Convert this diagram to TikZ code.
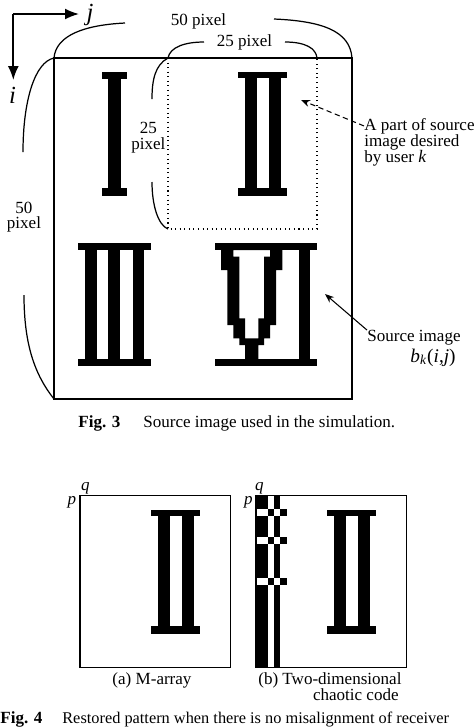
\documentclass[tikz,border=0pt]{standalone}
\usepackage{fontspec}
\setmainfont{Liberation Serif}
\usepackage{tikz}
\usetikzlibrary{arrows.meta}
\tikzset{>=stealth}
\tikzset{
  lbl/.style={inner sep=0pt, font=\fontsize{9.7}{11}\selectfont},
  tightlbl/.style={lbl, text height=6.6pt, text depth=1.2pt},
  axlbl/.style={inner sep=0pt, font=\fontsize{14}{14}\selectfont\itshape},
  brace/.style={line width=0.7pt},
  frame/.style={line width=0.8pt},
}

\begin{document}
\begin{tikzpicture}[x=0.02cm, y=-0.02cm]
        \useasboundingbox (0,0) rectangle (474,728);

        % Axes
        \coordinate (orig) at (13.3,14);
        \coordinate (jtip) at (79,14);
        \coordinate (itip) at (13.3,80);
        \draw [-{Latex[length=2.8mm,width=2.2mm]}, line width=1pt] (orig) -- (jtip);
        \draw [-{Latex[length=2.8mm,width=2.2mm]}, line width=1pt] (orig) -- (itip);
        \node[axlbl, anchor=base] (jlbl) at (90,20) {j};
        \node[axlbl, anchor=base] (ilbl) at (12.5,103) {i};

        % Source image, pixels
        \fill (101.7,71.7) rectangle (127.3,79);
        \fill (101.7,188.3) rectangle (127.3,195.7);
        \fill (108.3,79) rectangle (120.7,188.3);

        \foreach \dx/\dy in {0/0, -87/438, 89/438} {
          \begin{scope}[shift={(\dx,\dy)}]
            \fill (238.3,71.7) rectangle (286.7,78.3);
            \fill (238.3,188.3) rectangle (286.7,195.7);
            \fill (245,78.3) rectangle (256.7,188.3);
            \fill (269.3,78.3) rectangle (280.7,188.3);
          \end{scope}
        }

        \fill (78.3,243.3) rectangle (151,250);
        \fill (78.3,359) rectangle (151,365.7);
        \fill (85,250) rectangle (96.7,359);
        \fill (108.3,250) rectangle (120,359);
        \fill (132.7,250) rectangle (144,359);

        \fill (215,243.3) rectangle (316.7,250);
        \fill (215,359) rectangle (316.7,365.7);
        \fill (299,250) rectangle (310,359);
        \fill[even odd rule] (221,250) -- (221,270) -- (227.3,270) -- (227.3,325) -- (233.3,325)
          -- (233.3,338.3) -- (239.3,338.3) -- (239.3,345) -- (245,345) -- (245,359)
          -- (258.3,359) -- (258.3,345) -- (264,345) -- (264,338.3) -- (270,338.3)
          -- (270,325) -- (276,325) -- (276,270) -- (282.3,270) -- (282.3,250) -- cycle
          (233.3,250) -- (233.3,256.7) -- (239.3,256.7) -- (239.3,318.3) -- (245,318.3)
          -- (245,338.3) -- (258.3,338.3) -- (258.3,318.3) -- (264,318.3) -- (264,256.7)
          -- (270,256.7) -- (270,250) -- cycle;

        \draw [frame] (54,58) rectangle (352,399);
        \draw [dotted, line width=0.6pt] (168,58) -- (168,229) -- (317,229) -- (317,58);

        % Sizes
        \draw [brace] (54,58) .. controls (56,35) and (85,25) .. (125,23);
        \draw [brace] (274,19) .. controls (320,21) and (350,30) .. (352,58);
        \node[lbl, anchor=base] (topfifty) at (198.5,25) {50 pixel};

        \draw [brace] (168,58) .. controls (170,47) and (185,42) .. (204,42);
        \draw [brace] (285,42) .. controls (305,42) and (316,48) .. (317,58);
        \node[lbl, anchor=base] (toptwentyfive) at (244.5,46.5) {25 pixel};

        \draw [brace] (168,58) .. controls (155,65) and (152,80) .. (152,99);
        \draw [brace] (152,182) .. controls (152,205) and (158,225) .. (168,229);
        \node[tightlbl, anchor=base] (midnum) at (148.3,133) {25};
        \node[tightlbl, anchor=base] (midunit) at (148.3,149.5) {pixel};

        \draw [brace] (54,58) .. controls (35,62) and (23,100) .. (23,152);
        \draw [brace] (24,295) .. controls (24,345) and (35,375) .. (54,399);
        \node[tightlbl, anchor=base] (leftnum) at (24,213) {50};
        \node[tightlbl, anchor=base] (leftunit) at (24,228) {pixel};

        % Labels
        \node[tightlbl, anchor=base west] (partA) at (364,130.7) {A part of source};
        \node[tightlbl, anchor=base west] (partB) at (364,146.7) {image desired};
        \node[tightlbl, anchor=base west] (partC) at (364,162.5) {by user {\fontsize{10}{10}\selectfont\itshape k}};
        \coordinate (parttip) at (301,100);
        \draw [densely dashed, line width=0.6pt, -{Stealth[length=1.8mm,width=1.4mm]}] (partA.west) -- (parttip);

        \node[lbl, anchor=base west] (srcA) at (367,341.7) {Source image};
        \node[lbl, anchor=base east, font=\fontsize{11}{11}\selectfont] (srcB) at (456,362)
          {\textit{b}\textsubscript{\textit{k}}(\textit{i},\textit{j})};
        \coordinate (srctip) at (325,294);
        \draw [line width=0.6pt, -{Stealth[length=1.8mm,width=1.4mm]}] (srcA.north west) -- (srctip);

        \node[lbl, anchor=base west] (figthree) at (78,427.3) {\textbf{Fig. 3}};
        \node[lbl, anchor=base west] (capthree) at (143,427.3) {Source image used in the simulation.};

        % Restored patterns
        \fill (256,495.7) rectangle (268.3,667.3);
        \fill (274.3,495.7) rectangle (280.3,667.3);
        \foreach \r in {2,6,12} {
          \fill[white] (256,495.7+\r*6.86) rectangle (268.3,502.56+\r*6.86);
          \fill[white] (274.3,495.7+\r*6.86) rectangle (280.3,502.56+\r*6.86);
          \fill (268.3,495.7+\r*6.86) rectangle (274.3,502.56+\r*6.86);
          \fill (280.3,495.7+\r*6.86) rectangle (286.7,502.56+\r*6.86);
        }
        \draw [frame] (80,495.7) rectangle (230.7,667.3);
        \draw [frame] (256,495.7) rectangle (406.7,667.3);

        \node[lbl, anchor=base] (pa) at (72,504) {\textit{p}};
        \node[lbl, anchor=base] (qa) at (85.5,490) {\textit{q}};
        \node[lbl, anchor=base] (pb) at (248.5,504) {\textit{p}};
        \node[lbl, anchor=base] (qb) at (259.5,490) {\textit{q}};

        \node[lbl, anchor=base] (capa) at (152,684) {(a) M-array};
        \node[tightlbl, anchor=base west] (capb) at (258,684) {(b) Two-dimensional};
        \node[tightlbl, anchor=base east] (capc) at (399,700) {chaotic code};

        \node[lbl, anchor=base west] (figfour) at (0,723) {\textbf{Fig. 4}};
        \node[lbl, anchor=base west, font=\fontsize{9.3}{11}\selectfont] (capfour) at (62,723) {Restored pattern when there is no misalignment of receiver};
\end{tikzpicture}
\end{document}
